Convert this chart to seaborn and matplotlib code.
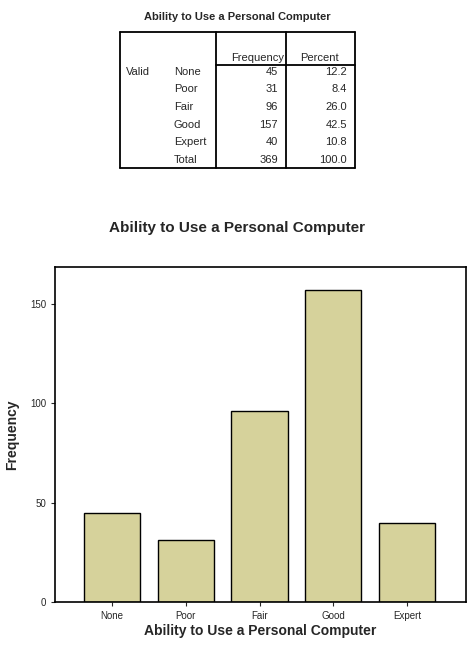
import matplotlib
matplotlib.use("Agg")
import matplotlib.pyplot as plt
import seaborn as sns
import pandas as pd
from matplotlib.lines import Line2D

categories = ["None", "Poor", "Fair", "Good", "Expert"]
frequency = [45, 31, 96, 157, 40]
percent = ["12.2", "8.4", "26.0", "42.5", "10.8"]
total_freq = 369
total_pct = "100.0"

sns.set_style("white")
plt.rcParams['font.family'] = ['Liberation Sans', 'DejaVu Sans']

W, H = 474, 651
fig = plt.figure(figsize=(W/100, H/100), dpi=100)

def fx(x): return x / W
def fy(y): return 1 - y / H

# Table
fig.text(fx(237), fy(17), "Ability to Use a Personal Computer", ha="center", va="center",
         fontsize=8, fontweight="bold")
lw = 1.3
def line(x0, y0, x1, y1):
    fig.add_artist(Line2D([fx(x0), fx(x1)], [fy(y0), fy(y1)], color="black", lw=lw))
line(120, 32, 355, 32); line(120, 168, 355, 168)
line(120, 32, 120, 168); line(355, 32, 355, 168)
line(216, 32, 216, 168); line(286, 32, 286, 168)
line(216, 65, 355, 65)
fs = 8
fig.text(fx(284), fy(58), "Frequency", ha="right", va="center", fontsize=fs)
fig.text(fx(339), fy(58), "Percent", ha="right", va="center", fontsize=fs)
fig.text(fx(126), fy(72), "Valid", ha="left", va="center", fontsize=fs)
rows = list(zip(categories, frequency, percent)) + [("Total", total_freq, total_pct)]
for i, (c, f, p) in enumerate(rows):
    y = 72 + i * 17.5
    fig.text(fx(174), fy(y), c, ha="left", va="center", fontsize=fs)
    fig.text(fx(278), fy(y), str(f), ha="right", va="center", fontsize=fs)
    fig.text(fx(347), fy(y), p, ha="right", va="center", fontsize=fs)

# Chart
ax = fig.add_axes([fx(55), fy(602), fx(466) - fx(55), fy(267) - fy(602)])
df = pd.DataFrame({"cat": categories, "freq": frequency})
sns.barplot(data=df, x="cat", y="freq", ax=ax, color="#D6D29B", saturation=1,
            width=0.76, edgecolor="black", linewidth=1.0)
ax.set_xlim(-0.773, 4.80)
ax.set_ylim(0, 168.6)
ax.set_yticks([0, 50, 100, 150])
ax.tick_params(axis="both", labelsize=7, length=3, left=True, bottom=True)
for s in ax.spines.values():
    s.set_linewidth(1.2); s.set_color("black")
ax.set_xlabel("Ability to Use a Personal Computer", fontsize=10, fontweight="bold", labelpad=2)
ax.set_ylabel("Frequency", fontsize=10, fontweight="bold", labelpad=8)
fig.text(fx(237), fy(228), "Ability to Use a Personal Computer", ha="center", va="center",
         fontsize=11, fontweight="bold")

fig.savefig("out.png", dpi=100)
